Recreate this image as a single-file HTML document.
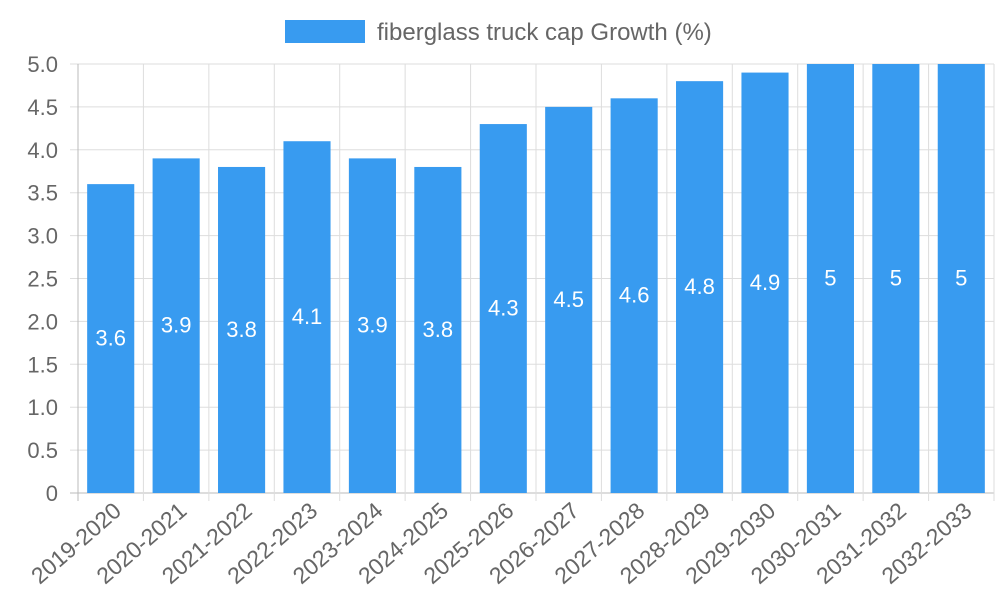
<!DOCTYPE html>
<html><head><meta charset="utf-8"><style>
body{margin:0;background:#fff;}
svg text{font-family:"Liberation Sans",sans-serif;}
</style></head><body>
<svg id="chart" width="1000" height="600">
<g id="legend">
<rect x="285" y="20" width="80" height="23" fill="#389bf0"></rect>
<text x="377" y="40" font-size="24" fill="#666">fiberglass truck cap Growth (%)</text>
</g>
<g id="grid"></g><g id="bars"></g><g id="axes"></g>
</svg>
<script>
const categories=["2019-2020","2020-2021","2021-2022","2022-2023","2023-2024","2024-2025","2025-2026","2026-2027","2027-2028","2028-2029","2029-2030","2030-2031","2031-2032","2032-2033"];
const values=[3.6,3.9,3.8,4.1,3.9,3.8,4.3,4.5,4.6,4.8,4.9,5,5,5];
const yTicks=[0,0.5,1,1.5,2,2.5,3,3.5,4,4.5,5];
const yTickLabels=["0","0.5","1.0","1.5","2.0","2.5","3.0","3.5","4.0","4.5","5.0"];
const NS="http://www.w3.org/2000/svg";
const L=78,R=994,T=64,B=493,ymax=5;
const step=(R-L)/categories.length;
const y=v=>B-(v/ymax)*(B-T);
const x=i=>L+step*i;
function mk(tag,attrs,parent){const e=document.createElementNS(NS,tag);for(const k in attrs)e.setAttribute(k,attrs[k]);parent.appendChild(e);return e;}
const grid=document.getElementById('grid'),bars=document.getElementById('bars'),axes=document.getElementById('axes');
yTicks.forEach((t,i)=>{
 const ln=mk('line',{x1:L-8,x2:R,y1:y(t),y2:y(t),stroke:i===0?'#bbb':'#ddd','stroke-width':1},grid);
 
 
 const tx=mk('text',{x:L-20,y:y(t)+8,'text-anchor':'end','font-size':22,fill:'#666'},axes);
 tx.textContent=yTickLabels[i];
 
 
});
for(let i=0;i<=categories.length;i++){
 const ln=mk('line',{x1:x(i),x2:x(i),y1:T,y2:B+8,stroke:i===0?'#bbb':'#ddd','stroke-width':1},grid);
 
 
}
const bw=step*0.72;
categories.forEach((c,i)=>{
 const cx=x(i)+step/2;
 const r=mk('rect',{x:cx-bw/2,y:y(values[i]),width:bw,height:B-y(values[i]),fill:'#389bf0'},bars);
 
 
 const v=mk('text',{x:cx,y:(y(values[i])+B)/2+7,'text-anchor':'middle','font-size':22,fill:'#fff'},bars);
 v.textContent=values[i];
 
 
 const tl=mk('text',{x:cx+12,y:B+20,'text-anchor':'end','font-size':23,fill:'#666',transform:`rotate(-41 ${cx+12} ${B+20})`},axes);
 tl.textContent=c;
 
 
});
</script>
</body></html>
